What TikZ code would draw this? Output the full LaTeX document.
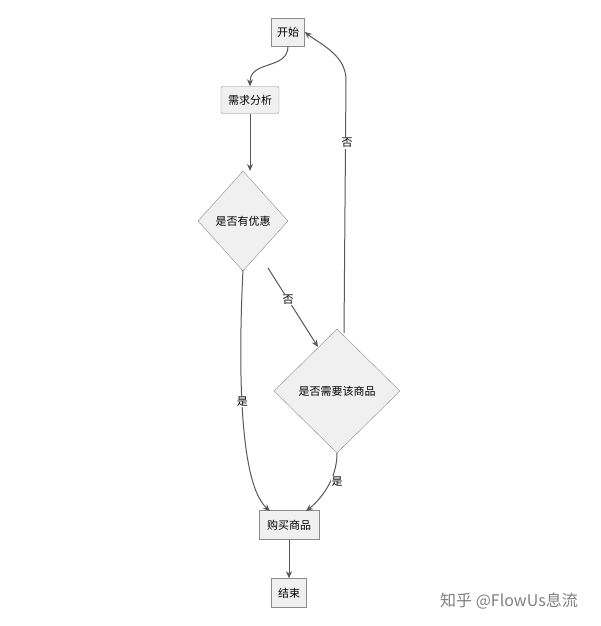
\documentclass[tikz,border=0pt]{standalone}
\usepackage{fontspec}
\setmainfont{Noto Sans CJK SC}
\usetikzlibrary{shapes.geometric,arrows.meta}
\begin{document}
\begin{tikzpicture}[x=1pt,y=-1pt,
  box/.style={draw=black!45,fill=black!6,minimum height=28pt,inner sep=4pt,font=\fontsize{11}{13}\selectfont},
  dia/.style={diamond,draw=black!45,fill=black!6,font=\fontsize{11}{13}\selectfont,inner sep=0pt},
  conn/.style={draw=black!65,line width=1pt,-{Stealth[length=7pt,width=6pt]}},
  lab/.style={fill=white,font=\fontsize{11}{13}\selectfont,inner sep=1pt}]
\useasboundingbox[fill=white] (0,0) rectangle (600,626);
\node[box,minimum width=33pt] (start) at (288,32) {开始};
\node[box,minimum width=58pt,minimum height=27pt,rounded corners=2pt] (req) at (250,100) {需求分析};
\node[dia,minimum width=90pt,minimum height=100pt] (d1) at (243,221) {是否有优惠};
\node[dia,minimum width=126pt,minimum height=124pt] (d2) at (337,391) {是否需要该商品};
\node[box,minimum width=60pt,minimum height=29pt] (buy) at (289,525) {购买商品};
\node[box,minimum width=35pt,minimum height=29pt] (end) at (289,593) {结束};
\draw[conn] (start.south) .. controls (288,70) and (250,60) .. (req.north);
\draw[conn] (req.south) -- (250,171);
\draw[conn] (243,270) .. controls (240,330) and (235,480) .. (270,511) node[lab,pos=0.5] {是};
\draw[conn] (268,268) -- (318,347) node[lab,pos=0.4] {否};
\draw[conn] (344,333) -- (346,80) .. controls (346,55) and (320,44) .. (start.east);
\node[lab] at (347,143) {否};
\draw[conn] (d2.south) .. controls (337,480) and (320,500) .. (306,511);
\node[lab] at (337,482) {是};
\draw[conn] (buy.south) -- (end.north);
\node[text=black!50,font=\fontsize{16}{18}\selectfont] (wm) at (509,601) {知乎 @FlowUs息流};
\end{tikzpicture}
\end{document}
